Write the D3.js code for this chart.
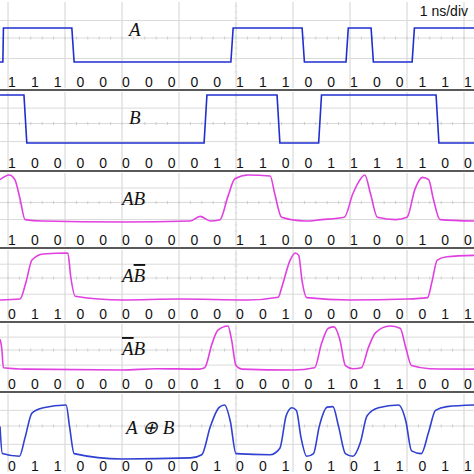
<!DOCTYPE html><html><head><meta charset="utf-8">
<script src="https://cdn.jsdelivr.net/npm/d3@7"></script>
<style>body{margin:0;background:#fff}</style></head><body><svg id="c" width="474" height="474"></svg>
<script>
const bitsA   = "111000000011100100111";
const bitsB   = "100000000111001111100";
const bitsAB  = "100000000011000100100";
const bitsANB = "011000000000100000011";
const bitsNAB = "000000000100001011000";
const bitsXOR = "011000000100101011011";
// traces: [time ns, level 0..1]
const traceA = [[-0.14,0],[-0.09,0],[-0.08,1],[1.12,1],[1.16,0],[3.91,0],[3.95,1],[5.16,1],[5.20,0],[5.93,0],[5.97,1],[6.37,1],[6.41,0],[7.09,0],[7.13,1],[8.18,1]];
const traceB = [[-0.14,1],[0.28,1],[0.33,0],[3.44,0],[3.49,1],[4.72,1],[4.77,0],[5.45,0],[5.50,1],[7.51,1],[7.56,0],[8.18,0]];
const traceAB = [[-0.14,0.9],[0.02,1],[0.12,0.9],[0.21,0.5],[0.30,0.05],[0.6,0.02],[2.0,0],[3.2,0.02],[3.37,0.12],[3.55,0.02],[3.72,0.05],[3.86,0.55],[3.98,0.92],[4.21,1],[4.60,0.98],[4.68,0.6],[4.80,0.1],[5.2,0.02],[5.5,0.05],[5.9,0.1],[6.05,0.6],[6.15,0.85],[6.26,1],[6.36,0.6],[6.48,0.1],[6.8,0.05],[7.0,0.1],[7.14,0.7],[7.27,0.95],[7.38,0.9],[7.46,0.5],[7.58,0.05],[8.18,0.02]];
const traceANB = [[-0.14,0],[0.21,0.02],[0.32,0.4],[0.42,0.85],[0.62,0.98],[1.05,1],[1.10,0.5],[1.18,0.08],[2.0,0],[3.0,0.02],[4.2,0],[4.74,0.06],[4.81,0.3],[4.95,0.85],[5.04,1],[5.10,0.95],[5.16,0.4],[5.24,0.05],[6.0,0],[7.0,0.02],[7.36,0.05],[7.44,0.4],[7.53,0.85],[7.7,0.92],[8.18,0.95]];
const traceNAB = [[-0.14,0.7],[-0.11,0.5],[-0.08,0.05],[0.3,0.02],[2.0,0],[2.6,0.03],[3.35,0.02],[3.45,0.05],[3.58,0.6],[3.68,0.9],[3.86,1],[3.92,0.7],[4.0,0.1],[4.1,0.02],[5.0,0],[5.38,0.05],[5.5,0.6],[5.62,0.95],[5.72,0.98],[5.82,0.7],[5.92,0.1],[6.05,0.03],[6.2,0.05],[6.32,0.5],[6.45,0.85],[6.7,1],[6.88,0.95],[6.98,0.5],[7.08,0.1],[7.4,0.03],[8.18,0.02]];
const traceXOR = [[-0.14,0.6],[-0.10,0.1],[0.2,0.05],[0.3,0.4],[0.42,0.85],[0.62,0.95],[1.02,1],[1.08,0.6],[1.16,0.1],[2.0,0],[3.2,0.02],[3.4,0.08],[3.55,0.6],[3.7,0.95],[3.8,1],[3.9,0.7],[4.0,0.1],[4.6,0.08],[4.77,0.2],[4.88,0.8],[4.98,0.95],[5.06,0.9],[5.14,0.4],[5.24,0.05],[5.36,0.1],[5.46,0.6],[5.6,0.96],[5.7,0.97],[5.8,0.6],[5.92,0.1],[6.05,0.05],[6.18,0.3],[6.3,0.8],[6.5,0.95],[6.85,1],[6.98,0.7],[7.08,0.15],[7.25,0.1],[7.38,0.5],[7.5,0.9],[7.7,0.97],[8.18,1]];

const panels = [
 {top:0,bot:90,hi:28,lo:62,bits:bitsA,trace:traceA,color:"#1f2fd0",label:"A",ly:30,digital:true},
 {top:90,bot:171,hi:95,lo:143,bits:bitsB,trace:traceB,color:"#1f2fd0",label:"B",ly:118,digital:true},
 {top:171,bot:248,hi:175,lo:222,bits:bitsAB,trace:traceAB,color:"#e040e0",label:"AB",ly:199},
 {top:248,bot:322,hi:253,lo:300,bits:bitsANB,trace:traceANB,color:"#e040e0",label:"ANB",ly:276},
 {top:322,bot:392,hi:326,lo:370,bits:bitsNAB,trace:traceNAB,color:"#e040e0",label:"NAB",ly:349},
 {top:392,bot:474,hi:405,lo:459,bits:bitsXOR,trace:traceXOR,color:"#3040d0",label:"XOR",ly:428}
];
const svg=d3.select("#c");
const x=d3.scaleLinear().domain([0,8]).range([8,464]);
const gridT=d3.range(0,9);
panels.forEach((p,i)=>{
  const yb=p.bot-14;
  const g=svg.append("g");
  g.selectAll(".v").data(gridT).join("line").attr("x1",d=>x(d)).attr("x2",d=>x(d))
   .attr("y1",p.top+2).attr("y2",p.bot-2).attr("stroke","#d2d2d2").attr("stroke-width",1);
  const h=yb-p.top;
  [0.27,0.5,0.77].forEach(f=>{
    g.append("line").attr("x1",0).attr("x2",474).attr("y1",p.top+h*f).attr("y2",p.top+h*f)
     .attr("stroke","#dadada").attr("stroke-width",1);
  });
  const yc=p.top+h*0.5;
  g.selectAll(".t").data(d3.range(0,8.2,0.2)).join("line").attr("x1",d=>x(d)).attr("x2",d=>x(d))
   .attr("y1",yc-1.5).attr("y2",yc+1.5).attr("stroke","#cccccc");
  g.selectAll(".t2").data(d3.range(p.top+6,p.bot-16,6)).join("line").attr("x1",x(4)-1.5).attr("x2",x(4)+1.5)
   .attr("y1",d=>d).attr("y2",d=>d).attr("stroke","#dddddd");
  const y=d3.scaleLinear().domain([0,1]).range([p.lo,p.hi]);
  const line=d3.line().x(d=>x(d[0])).y(d=>y(d[1])).curve(p.digital?d3.curveLinear:d3.curveMonotoneX);
  g.append("path").attr("d",line(p.trace)).attr("fill","none").attr("stroke",p.color).attr("stroke-width",1.6);
  g.selectAll(".b").data(p.bits.split("")).join("text").attr("x",(d,j)=>x(0.07+0.4*j)).attr("y",p.bot-3)
   .attr("text-anchor","middle").attr("font-family","Liberation Sans, Arial").attr("font-size",14).attr("fill","#111").text(d=>d);
  const t=g.append("text").attr("y",p.ly+6).attr("font-family","Liberation Serif, Times New Roman").attr("font-style","italic")
   .attr("font-size",19).attr("fill","#111");
  if(p.label==="ANB"){t.attr("x",122);t.append("tspan").text("A");t.append("tspan").attr("text-decoration","overline").text("B");}
  else if(p.label==="NAB"){t.attr("x",122);t.append("tspan").attr("text-decoration","overline").text("A");t.append("tspan").text("B");}
  else if(p.label==="XOR"){t.attr("x",126).text("A \u2295 B");}
  else t.attr("x",p.label.length>1?122:129).text(p.label);
  if(i>0) svg.append("line").attr("x1",0).attr("x2",474).attr("y1",p.top).attr("y2",p.top).attr("stroke","#222").attr("stroke-width",1.5);
});
svg.append("text").attr("x",468).attr("y",16).attr("text-anchor","end").attr("font-family","Liberation Sans, Arial")
 .attr("font-size",14).attr("fill","#111").text("1 ns/div");
</script></body></html>
